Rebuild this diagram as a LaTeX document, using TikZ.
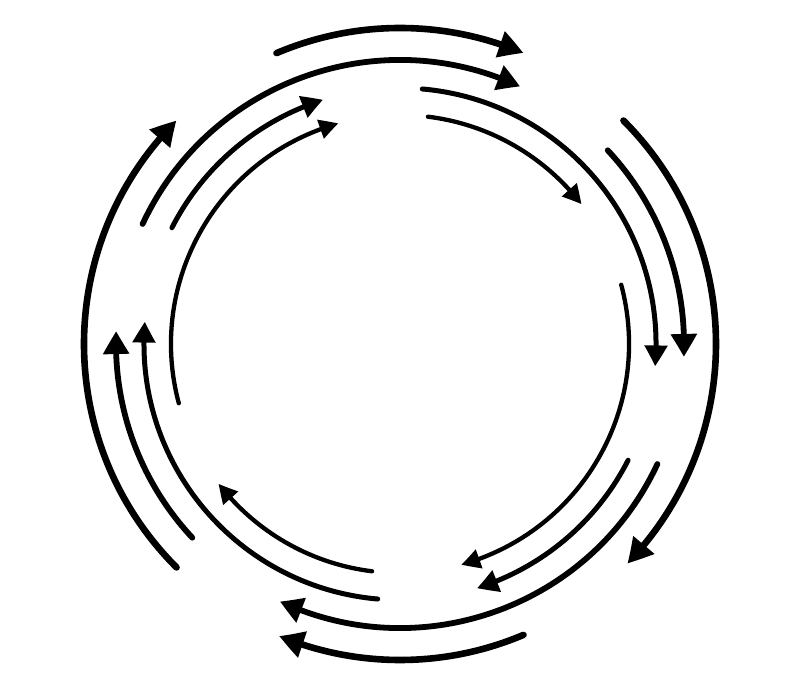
\documentclass[tikz,border=0pt]{standalone}
\usetikzlibrary{arrows.meta,bending}
\begin{document}
\begin{tikzpicture}[x=1pt,y=1pt,
  ringA/.style={line width=4.3pt, line cap=round, -{Triangle[length=19pt,width=19pt,bend]}},
  ringB/.style={line width=5.0pt, line cap=round, -{Triangle[length=21pt,width=22pt,bend]}},
  ringC/.style={line width=5.8pt, line cap=round, -{Triangle[length=23pt,width=25pt,bend]}},
  ringD/.style={line width=6.6pt, line cap=round, -{Triangle[length=25pt,width=26pt,bend]}}]
\useasboundingbox (0,0) rectangle (800,689);
\fill[white] (0,0) rectangle (800,689);
\coordinate (c) at (400,345);
% ring 1
\foreach \s/\e in {83/37.6, 15/-74.5, 263/217.6, 195/105.6}
  \draw[ringA] (c) ++(\s:229pt) arc[start angle=\s, end angle=\e, radius=229pt];
% ring 2
\foreach \s/\e in {153/107.5, 85/-5, -27/-72.5, 265/175}
  \draw[ringB] (c) ++(\s:256pt) arc[start angle=\s, end angle=\e, radius=256pt];
% ring 3
\foreach \s/\e in {155/65, 43/-2.6, -25/-115, 223/177.4}
  \draw[ringC] (c) ++(\s:284pt) arc[start angle=\s, end angle=\e, radius=284pt];
% ring 4
\foreach \s/\e in {113/67, 45/-44, -67/-112.5, 225/135}
  \draw[ringD] (c) ++(\s:316pt) arc[start angle=\s, end angle=\e, radius=316pt];
\end{tikzpicture}
\end{document}
